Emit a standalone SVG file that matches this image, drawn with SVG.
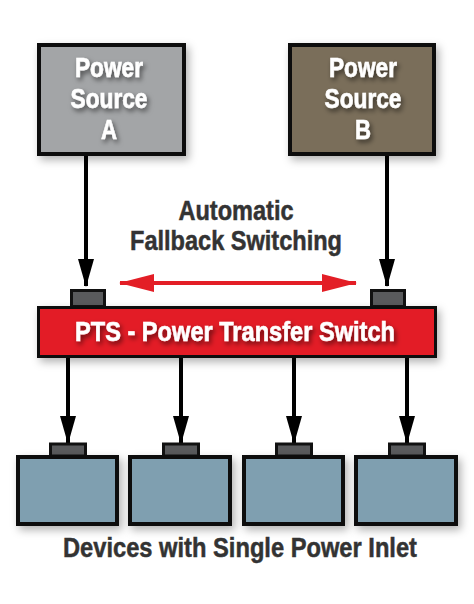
<svg xmlns="http://www.w3.org/2000/svg" width="474" height="604" viewBox="0 0 474 604">
<defs>
<style>
.box{stroke:#111;stroke-width:4}
.plug{fill:#595a5c;stroke:#111;stroke-width:3}
.wt{fill:#fff;stroke:#fff;stroke-width:0.6;font-family:"Liberation Sans",Arial,sans-serif;font-weight:bold;font-size:28px;text-anchor:middle}
.dk{fill:#333;stroke:#333;stroke-width:0.5;font-family:"Liberation Sans",Arial,sans-serif;font-weight:bold;font-size:27px;text-anchor:middle}
.wire{stroke:#000;stroke-width:4;fill:none}
</style>
<filter id="sh" x="-20%" y="-20%" width="150%" height="150%">
<feDropShadow dx="3" dy="4" stdDeviation="4" flood-color="#000" flood-opacity="0.3"/>
</filter>
<filter id="tsh" x="-20%" y="-20%" width="150%" height="160%">
<feDropShadow dx="2" dy="3" stdDeviation="2.5" flood-color="#000" flood-opacity="0.55"/>
</filter>
<marker id="ah" viewBox="0 -8 28 16" refX="27" refY="0" markerWidth="28" markerHeight="16" markerUnits="userSpaceOnUse" orient="auto">
<path d="M0,-8 L28,0 L0,8 z" fill="#000"/>
</marker>
<marker id="rh" viewBox="0 -9 35 18" refX="34" refY="0" markerWidth="35" markerHeight="18" markerUnits="userSpaceOnUse" orient="auto-start-reverse">
<path d="M0,-9 L35,0 L0,9 z" fill="#e31e26"/>
</marker>
</defs>
<rect width="474" height="604" fill="#fff"/>

<g id="connectors">
<line class="wire" x1="86" y1="156" x2="86" y2="286" marker-end="url(#ah)"/>
<line class="wire" x1="387" y1="156" x2="387" y2="286" marker-end="url(#ah)"/>
<line x1="120" y1="283" x2="356" y2="283" stroke="#e31e26" stroke-width="4" marker-start="url(#rh)" marker-end="url(#rh)"/>
<line class="wire" x1="68" y1="358" x2="68" y2="443" marker-end="url(#ah)"/>
<line class="wire" x1="181" y1="358" x2="181" y2="443" marker-end="url(#ah)"/>
<line class="wire" x1="294" y1="358" x2="294" y2="443" marker-end="url(#ah)"/>
<line class="wire" x1="407" y1="358" x2="407" y2="443" marker-end="url(#ah)"/>
</g>

<g id="sourceA">
<rect class="box" x="39" y="45" width="145" height="109" fill="#a3a5a7" filter="url(#sh)"/>
<g filter="url(#tsh)">
<text class="wt" x="109" y="77" textLength="68" lengthAdjust="spacingAndGlyphs">Power</text>
<text class="wt" x="109" y="108" textLength="77" lengthAdjust="spacingAndGlyphs">Source</text>
<text class="wt" x="109" y="139" textLength="16" lengthAdjust="spacingAndGlyphs">A</text>
</g>
</g>

<g id="sourceB">
<rect class="box" x="290" y="45" width="144" height="109" fill="#7a6e5a" filter="url(#sh)"/>
<g filter="url(#tsh)">
<text class="wt" x="363" y="77" textLength="68" lengthAdjust="spacingAndGlyphs">Power</text>
<text class="wt" x="363" y="108" textLength="77" lengthAdjust="spacingAndGlyphs">Source</text>
<text class="wt" x="363" y="139" textLength="16" lengthAdjust="spacingAndGlyphs">B</text>
</g>
</g>

<g id="label-fallback">
<text class="dk" x="236" y="220" textLength="115" lengthAdjust="spacingAndGlyphs">Automatic</text>
<text class="dk" x="236" y="250" textLength="212" lengthAdjust="spacingAndGlyphs">Fallback Switching</text>
</g>

<g id="pts">
<rect class="plug" x="71.5" y="290.5" width="33" height="16"/>
<rect class="plug" x="371.5" y="290.5" width="33" height="16"/>
<rect x="38.5" y="307.5" width="397" height="49" fill="#e31e26" stroke="#111" stroke-width="3" filter="url(#sh)"/>
<text class="wt" x="235" y="341" font-size="30" textLength="320" lengthAdjust="spacingAndGlyphs" filter="url(#tsh)">PTS - Power Transfer Switch</text>
</g>

<g id="device1">
<rect class="plug" x="50.5" y="444" width="35" height="12"/>
<rect class="box" x="18" y="457" width="99" height="67" fill="#7f9fb0" filter="url(#sh)"/>
</g>
<g id="device2">
<rect class="plug" x="163.5" y="444" width="35" height="12"/>
<rect class="box" x="130" y="457" width="100" height="67" fill="#7f9fb0" filter="url(#sh)"/>
</g>
<g id="device3">
<rect class="plug" x="276.5" y="444" width="35" height="12"/>
<rect class="box" x="244" y="457" width="99" height="67" fill="#7f9fb0" filter="url(#sh)"/>
</g>
<g id="device4">
<rect class="plug" x="389.5" y="444" width="35" height="12"/>
<rect class="box" x="356" y="457" width="100" height="67" fill="#7f9fb0" filter="url(#sh)"/>
</g>

<g id="label-devices">
<text class="dk" x="240" y="557" font-size="28" textLength="354" lengthAdjust="spacingAndGlyphs">Devices with Single Power Inlet</text>
</g>
</svg>
